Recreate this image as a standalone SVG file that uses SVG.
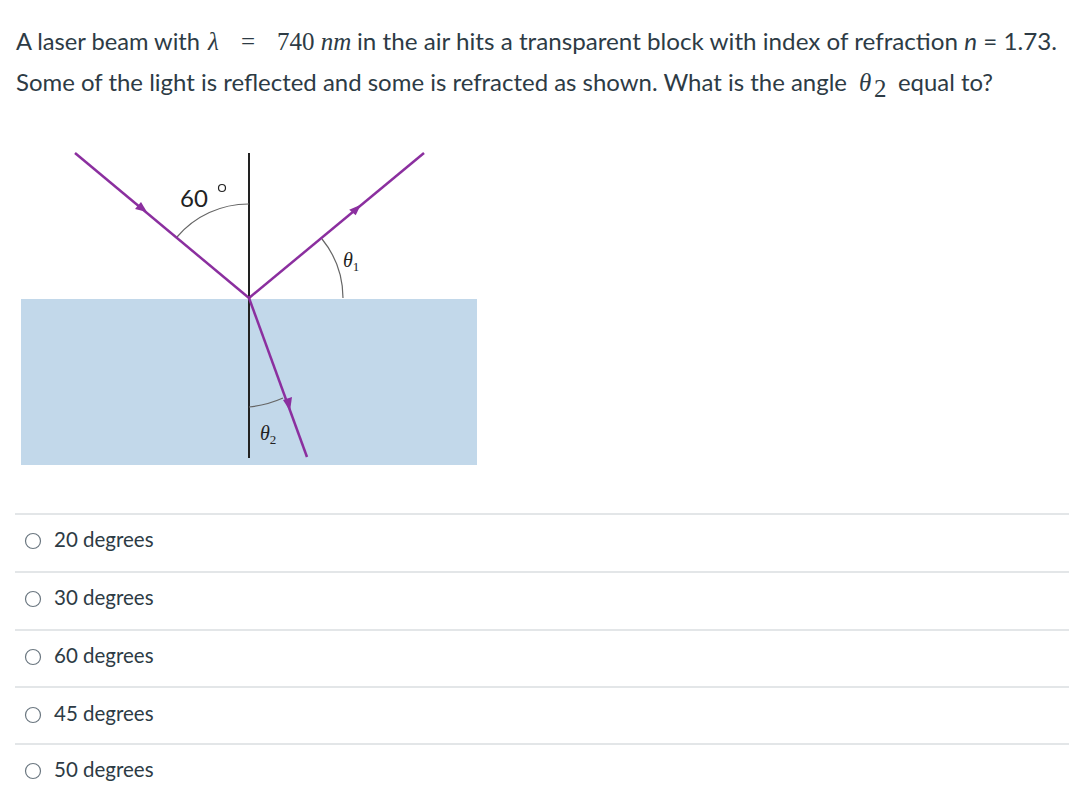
<svg xmlns="http://www.w3.org/2000/svg" width="1069" height="798" viewBox="0 0 1069 798">
<style>
.t{font-family:Lato,"Liberation Sans",sans-serif;font-size:22.5px;fill:#2d3b45}
.m{font-family:"Liberation Serif",serif;font-size:25px;fill:#2d3b45}
.o{font-family:Lato,"Liberation Sans",sans-serif;font-size:20.5px;fill:#2d3b45}
.sep{stroke:#c7cdd1;stroke-width:1}
.rc{fill:#fff;stroke:#6b7780;stroke-width:1.2}
.ray{stroke:#8b2f9f;stroke-width:2.5;fill:none}
.arc{stroke:#666;stroke-width:1.2;fill:none}
.g{font-family:"Liberation Serif",serif;font-style:italic;fill:#222}
</style>
<rect width="1069" height="798" fill="#fff"/>
<text class="t" x="16" y="50" textLength="184" lengthAdjust="spacingAndGlyphs">A laser beam with</text>
<text class="m" x="208" y="50" font-style="italic">λ</text>
<text class="m" x="241" y="50">=</text>
<text class="m" x="277" y="50">740 <tspan font-style="italic">nm</tspan></text>
<text class="t" x="357" y="50" textLength="700" lengthAdjust="spacingAndGlyphs">in the air hits a transparent block with index of refraction <tspan font-style="italic">n</tspan> = 1.73.</text>
<text class="t" x="16" y="91" textLength="831" lengthAdjust="spacingAndGlyphs">Some of the light is reflected and some is refracted as shown. What is the angle</text>
<text class="m" x="859" y="91" font-style="italic" font-size="27">θ</text>
<text class="m" x="874" y="97" font-size="20">2</text>
<text class="t" x="898" y="91" textLength="95" lengthAdjust="spacingAndGlyphs">equal to?</text>
<g id="diagram">
<rect x="21" y="299" width="456" height="166" fill="#c2d8ea"/>
<line x1="249" y1="153" x2="249" y2="458" stroke="#222" stroke-width="2"/>
<path class="arc" d="M177,237 A94,94 0 0 1 249,204"/>
<path class="arc" d="M322,239 A94,94 0 0 1 343,298"/>
<path class="arc" d="M249,407 A110,110 0 0 0 283,398"/>
<g id="connectors">
<line class="ray" x1="75" y1="153" x2="249" y2="298"/>
<line class="ray" x1="249" y1="298" x2="424" y2="153"/>
<line class="ray" x1="249" y1="298" x2="307" y2="457"/>
<polygon points="147,212 135,209 141,202" fill="#8b2f9f"/>
<polygon points="361,205 349,209 355,215" fill="#8b2f9f" transform="rotate(-5 358 207)"/>
<polygon points="290,411 283,400 292,397" fill="#8b2f9f"/>
</g>
<text x="180" y="207" font-family="Lato,'Liberation Sans',sans-serif" font-size="24" fill="#222">60</text>
<circle cx="222" cy="188" r="3.5" fill="none" stroke="#222" stroke-width="1.2"/>
<text class="g" x="343" y="267" font-size="20">θ<tspan font-size="13" font-style="normal" dy="4">1</tspan></text>
<text class="g" x="260" y="440" font-size="20">θ<tspan font-size="13" font-style="normal" dy="4">2</tspan></text>
</g>
<g id="options">
<line class="sep" x1="15" y1="514" x2="1069" y2="514"/>
<line class="sep" x1="15" y1="572" x2="1069" y2="572"/>
<line class="sep" x1="15" y1="630" x2="1069" y2="630"/>
<line class="sep" x1="15" y1="687" x2="1069" y2="687"/>
<line class="sep" x1="15" y1="744" x2="1069" y2="744"/>
<circle class="rc" cx="33" cy="541" r="7.5"/><text class="o" x="54" y="547">20 degrees</text>
<circle class="rc" cx="33" cy="599" r="7.5"/><text class="o" x="54" y="605">30 degrees</text>
<circle class="rc" cx="33" cy="657" r="7.5"/><text class="o" x="54" y="663">60 degrees</text>
<circle class="rc" cx="33" cy="715" r="7.5"/><text class="o" x="54" y="721">45 degrees</text>
<circle class="rc" cx="33" cy="771" r="7.5"/><text class="o" x="54" y="777">50 degrees</text>
</g>
</svg>
